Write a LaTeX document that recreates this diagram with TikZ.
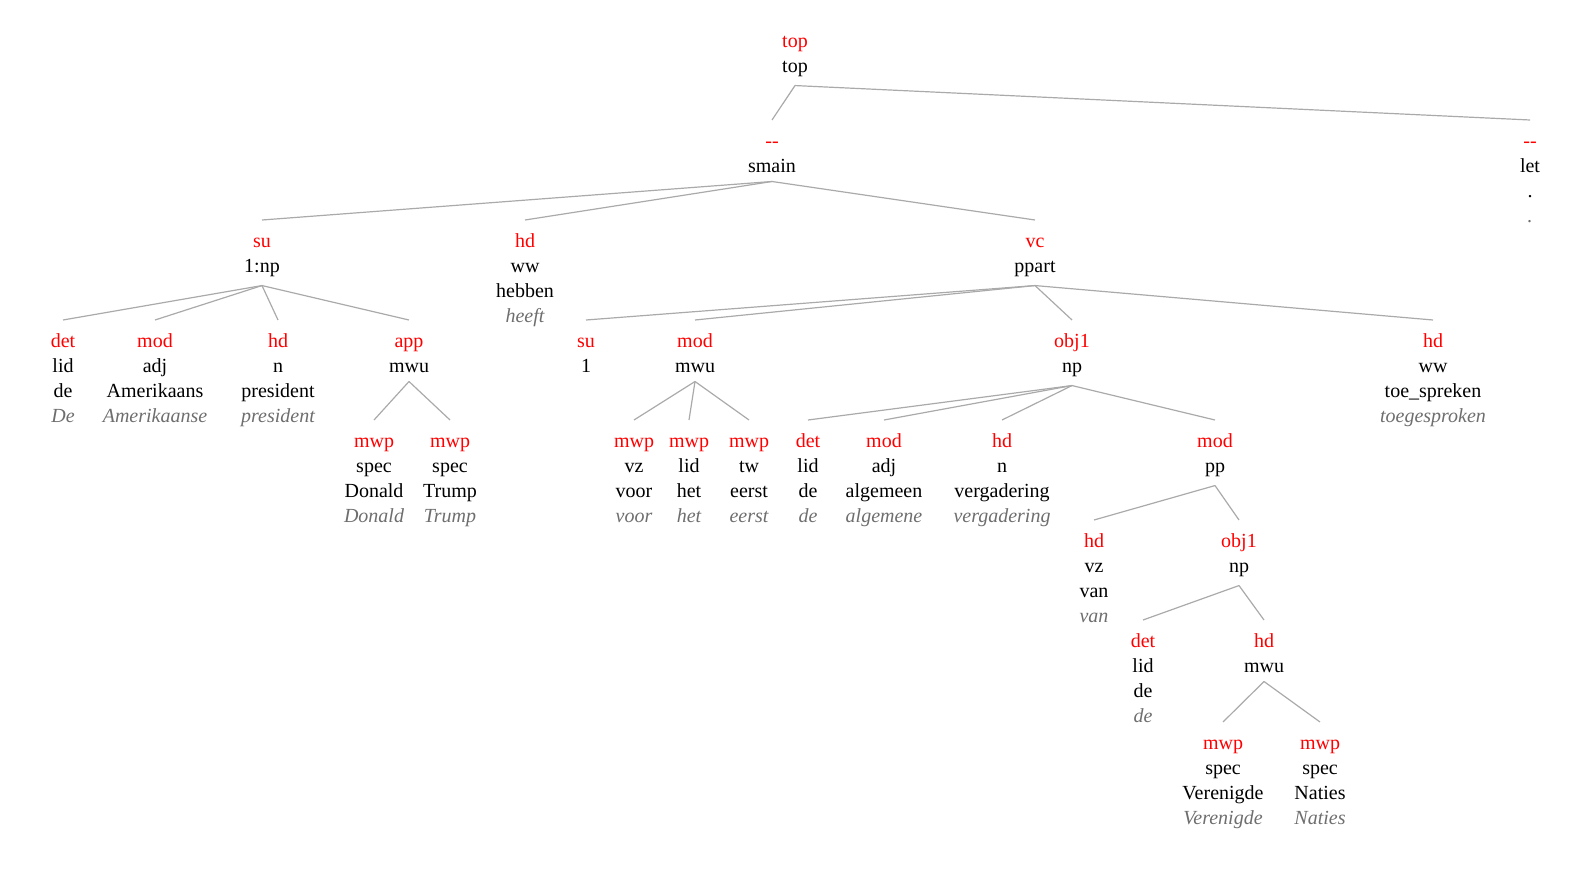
\documentclass[tikz,border=0pt]{standalone}
\usepackage{fontspec}
\setmainfont{Liberation Serif}
\definecolor{lab}{RGB}{255,0,0}
\definecolor{edge}{RGB}{170,170,170}
\definecolor{srfc}{RGB}{110,110,110}
\newcommand\lb[1]{\strut\textcolor{lab}{#1}}
\newcommand\sr[1]{\textcolor{srfc}{\itshape #1}}
\begin{document}
\begin{tikzpicture}[x=0.5pt,y=-0.5pt,
  tn/.style={anchor=north,align=center,inner sep=0pt,font=\fontsize{10}{12.5}\selectfont},
  ed/.style={draw=edge,line width=0.6pt}]
\useasboundingbox (0,0) rectangle (1578,877);
\newcommand\T[4]{\node[tn] (#1) at (#2,#3-10) {#4};}
\T{top}{795}{40}{\lb{top}\\top}
\T{smain}{772}{140}{\lb{{-}{-}}\\smain}
\T{let}{1530}{140}{\lb{{-}{-}}\\let\\.\\\sr{.}}
\T{np1}{262}{240}{\lb{su}\\1:np}
\T{hebben}{525}{240}{\lb{hd}\\ww\\hebben\\\sr{heeft}}
\T{ppart}{1035}{240}{\lb{vc}\\ppart}
\T{de1}{63}{340}{\lb{det}\\lid\\de\\\sr{De}}
\T{amer}{155}{340}{\lb{mod}\\adj\\Amerikaans\\\sr{Amerikaanse}}
\T{pres}{278}{340}{\lb{hd}\\n\\president\\\sr{president}}
\T{mwu1}{409}{340}{\lb{app}\\mwu}
\T{donald}{374}{440}{\lb{mwp}\\spec\\Donald\\\sr{Donald}}
\T{trump}{450}{440}{\lb{mwp}\\spec\\Trump\\\sr{Trump}}
\T{su1}{586}{340}{\lb{su}\\1}
\T{mwu2}{695}{340}{\lb{mod}\\mwu}
\T{np2}{1072}{340}{\lb{obj1}\\np}
\T{toe}{1433}{340}{\lb{hd}\\ww\\toe\_spreken\\\sr{toegesproken}}
\T{voor}{634}{440}{\lb{mwp}\\vz\\voor\\\sr{voor}}
\T{het}{689}{440}{\lb{mwp}\\lid\\het\\\sr{het}}
\T{eerst}{749}{440}{\lb{mwp}\\tw\\eerst\\\sr{eerst}}
\T{de2}{808}{440}{\lb{det}\\lid\\de\\\sr{de}}
\T{alg}{884}{440}{\lb{mod}\\adj\\algemeen\\\sr{algemene}}
\T{verg}{1002}{440}{\lb{hd}\\n\\vergadering\\\sr{vergadering}}
\T{pp}{1215}{440}{\lb{mod}\\pp}
\T{van}{1094}{540}{\lb{hd}\\vz\\van\\\sr{van}}
\T{np3}{1239}{540}{\lb{obj1}\\np}
\T{de3}{1143}{640}{\lb{det}\\lid\\de\\\sr{de}}
\T{mwu3}{1264}{640}{\lb{hd}\\mwu}
\T{ver}{1223}{742}{\lb{mwp}\\spec\\Verenigde\\\sr{Verenigde}}
\T{nat}{1320}{742}{\lb{mwp}\\spec\\Naties\\\sr{Naties}}
\newcommand\E[2]{\draw[ed] ([yshift=-4pt]#1.south) -- ([yshift=5pt]#2.north);}
\E{top}{smain}\E{top}{let}
\E{smain}{np1}\E{smain}{hebben}\E{smain}{ppart}
\E{np1}{de1}\E{np1}{amer}\E{np1}{pres}\E{np1}{mwu1}
\E{mwu1}{donald}\E{mwu1}{trump}
\E{ppart}{su1}\E{ppart}{mwu2}\E{ppart}{np2}\E{ppart}{toe}
\E{mwu2}{voor}\E{mwu2}{het}\E{mwu2}{eerst}
\E{np2}{de2}\E{np2}{alg}\E{np2}{verg}\E{np2}{pp}
\E{pp}{van}\E{pp}{np3}
\E{np3}{de3}\E{np3}{mwu3}
\E{mwu3}{ver}\E{mwu3}{nat}
\end{tikzpicture}
\end{document}
